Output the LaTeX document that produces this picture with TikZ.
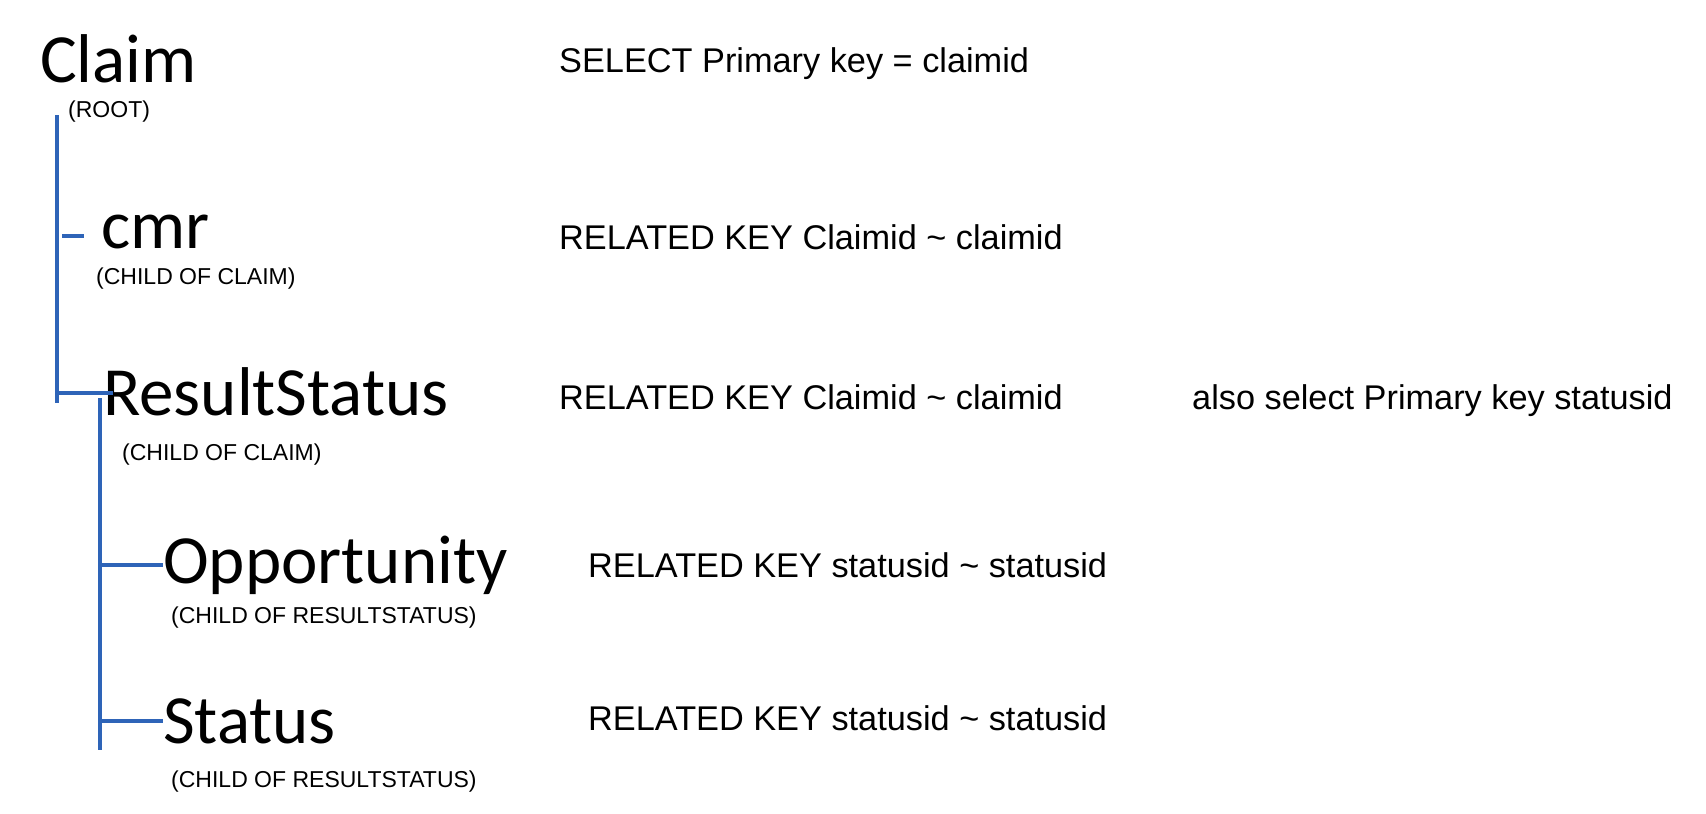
\documentclass[tikz,border=0pt]{standalone}
\usepackage{fontspec}
\setmainfont{Liberation Sans}
\newfontfamily\calfont{Carlito}
\definecolor{treeblue}{RGB}{46,100,184}

\begin{document}
\begin{tikzpicture}[x=1pt,y=-1pt]
	\tikzstyle{every node}=[inner sep=0pt,anchor=base west]
	\tikzstyle{tablename}=[font=\calfont\fontsize{69}{80}\selectfont,text height=44pt,text depth=0pt]
	\tikzstyle{role}=[font=\fontsize{23}{27}\selectfont]
	\tikzstyle{keynote}=[font=\fontsize{34.3}{40}\selectfont]
	\tikzstyle{link}=[draw=treeblue,line width=3.5pt]
	\useasboundingbox (0,0) rectangle (1706,814);

	\node[tablename] (claim) at (40,82) {Claim};
	\node[role] (claimrole) at (68,117) {(ROOT)};
	\node[tablename] (cmr) at (101,248) {cmr};
	\node[role] (cmrrole) at (96,284) {(CHILD OF CLAIM)};
	\node[tablename] (resultstatus) at (103,415) {ResultStatus};
	\node[role] (resultstatusrole) at (122,460) {(CHILD OF CLAIM)};
	\node[tablename] (opportunity) at (163,583) {Opportunity};
	\node[role] (opportunityrole) at (171,623) {(CHILD OF RESULTSTATUS)};
	\node[tablename] (status) at (163,743) {Status};
	\node[role] (statusrole) at (171,787) {(CHILD OF RESULTSTATUS)};

	\node[keynote] (claimkey) at (559,72) {SELECT Primary key = claimid};
	\node[keynote] (cmrkey) at (559,249) {RELATED KEY Claimid \textasciitilde{} claimid};
	\node[keynote] (resultstatuskey) at (559,409) {RELATED KEY Claimid \textasciitilde{} claimid};
	\node[keynote] (resultstatusextra) at (1192,409) {also select Primary key statusid};
	\node[keynote] (opportunitykey) at (588,577) {RELATED KEY statusid \textasciitilde{} statusid};
	\node[keynote] (statuskey) at (588,730) {RELATED KEY statusid \textasciitilde{} statusid};

	\coordinate (claimstem) at (57,115);
	\coordinate (claimstemend) at (57,403);
	\coordinate (cmrtick) at (62,236);
	\coordinate (rsstem) at (100,398);
	\coordinate (rsstemend) at (100,750);

	\draw[link] (claimstem) -- (claimstemend);
	\draw[link] (cmrtick) -- ++(22,0);
	\draw[link] (resultstatus.west -| claimstem) -- ([xshift=10pt]resultstatus.west);
	\draw[link] (rsstem) -- (rsstemend);
	\draw[link] ([yshift=-4pt]opportunity.west -| rsstem) -- ([yshift=-4pt]opportunity.west);
	\draw[link] (status.west -| rsstem) -- (status.west);
\end{tikzpicture}
\end{document}
